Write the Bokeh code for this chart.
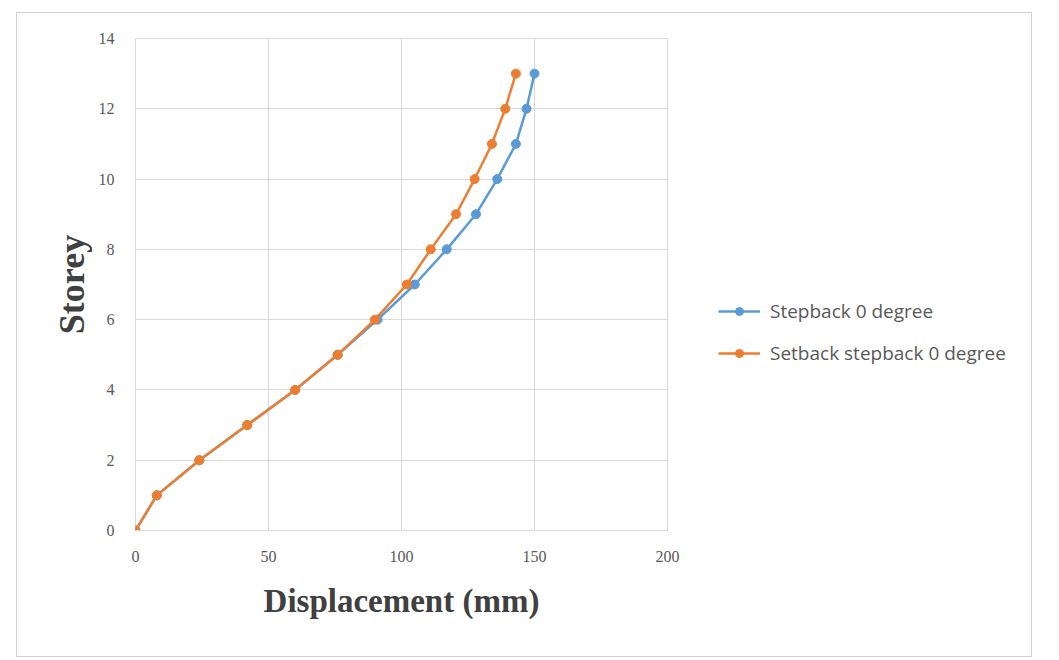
from bokeh.plotting import figure
from bokeh.models import Legend, FixedTicker, Range1d, Spacer
from bokeh.layouts import row, column
from bokeh.embed import file_html
from bokeh.resources import INLINE

storey = list(range(14))
stepback = [0, 8, 24, 42, 60, 76, 91, 105, 117, 128, 136, 143, 147, 150]
setback = [0, 8, 24, 42, 60, 76, 90, 102, 111, 120.5, 127.5, 134, 139, 143]
x_ticks = [0, 50, 100, 150, 200]
y_ticks = [0, 2, 4, 6, 8, 10, 12, 14]
series_names = ["Stepback 0 degree", "Setback stepback 0 degree"]
colors = ["#5B9BD5", "#ED7D31"]

p = figure(width=683, height=643, output_backend="svg", toolbar_location=None,
           x_range=Range1d(0, 200), y_range=Range1d(0, 14),
           min_border_left=118, min_border_right=33, min_border_top=25, min_border_bottom=126)
p.background_fill_color = "white"
p.border_fill_color = "white"
p.outline_line_color = "#d9d9d9"

p.xaxis.ticker = FixedTicker(ticks=x_ticks)
p.yaxis.ticker = FixedTicker(ticks=y_ticks)
p.xgrid.grid_line_color = "#d9d9d9"
p.ygrid.grid_line_color = "#d9d9d9"

for ax in (p.xaxis, p.yaxis):
    ax.major_tick_line_color = None
    ax.minor_tick_line_color = None
    ax.major_label_text_font = "Liberation Serif"
    ax.major_label_text_font_size = "16px"
    ax.major_label_text_color = "#595959"
    ax.axis_label_text_font = "Liberation Serif"
    ax.axis_label_text_font_style = "bold"
    ax.axis_label_text_color = "#404040"
p.xaxis.axis_label_text_font_size = "33px"
p.yaxis.axis_label_text_font_size = "36px"
p.xaxis.axis_line_color = "#d9d9d9"
p.yaxis.axis_line_color = None
p.xaxis.axis_label = "Displacement (mm)"
p.yaxis.axis_label = "Storey"
p.xaxis.major_label_standoff = 14
p.yaxis.major_label_standoff = 15
p.xaxis.axis_label_standoff = 18
p.yaxis.axis_label_standoff = 4

for vals, c in zip([stepback, setback], colors):
    p.line(vals, storey, line_color=c, line_width=2.5)
    p.scatter(vals, storey, marker="circle", size=9, fill_color=c, line_color=c)

# legend panel (its series lie outside this panel's ranges; only the legend shows)
q = figure(width=331, height=643, output_backend="svg", toolbar_location=None,
           x_range=Range1d(-2, -1), y_range=Range1d(-2, -1), min_border=0)
q.axis.visible = False
q.grid.visible = False
q.outline_line_color = None
q.background_fill_color = "white"
q.border_fill_color = "white"
items = []
for name, vals, c in zip(series_names, [stepback, setback], colors):
    r1 = q.line(vals, storey, line_color=c, line_width=2.5)
    r2 = q.scatter(vals, storey, marker="circle", size=9, fill_color=c, line_color=c)
    items.append((name, [r1, r2]))
legend = Legend(items=items, location=(18, 164), padding=0, margin=0,
                border_line_color=None, background_fill_alpha=0,
                glyph_width=42, glyph_height=20, label_height=20, spacing=16,
                label_standoff=10, label_text_font="Open Sans",
                label_text_font_size="19px", label_text_color="#595959")
q.add_layout(legend, "center")

inner = row(p, q, styles={"border": "1px solid #d0d0d0"})
layout = column(Spacer(height=12), row(Spacer(width=16), inner))
open("out.html", "w").write(file_html(layout, INLINE))
